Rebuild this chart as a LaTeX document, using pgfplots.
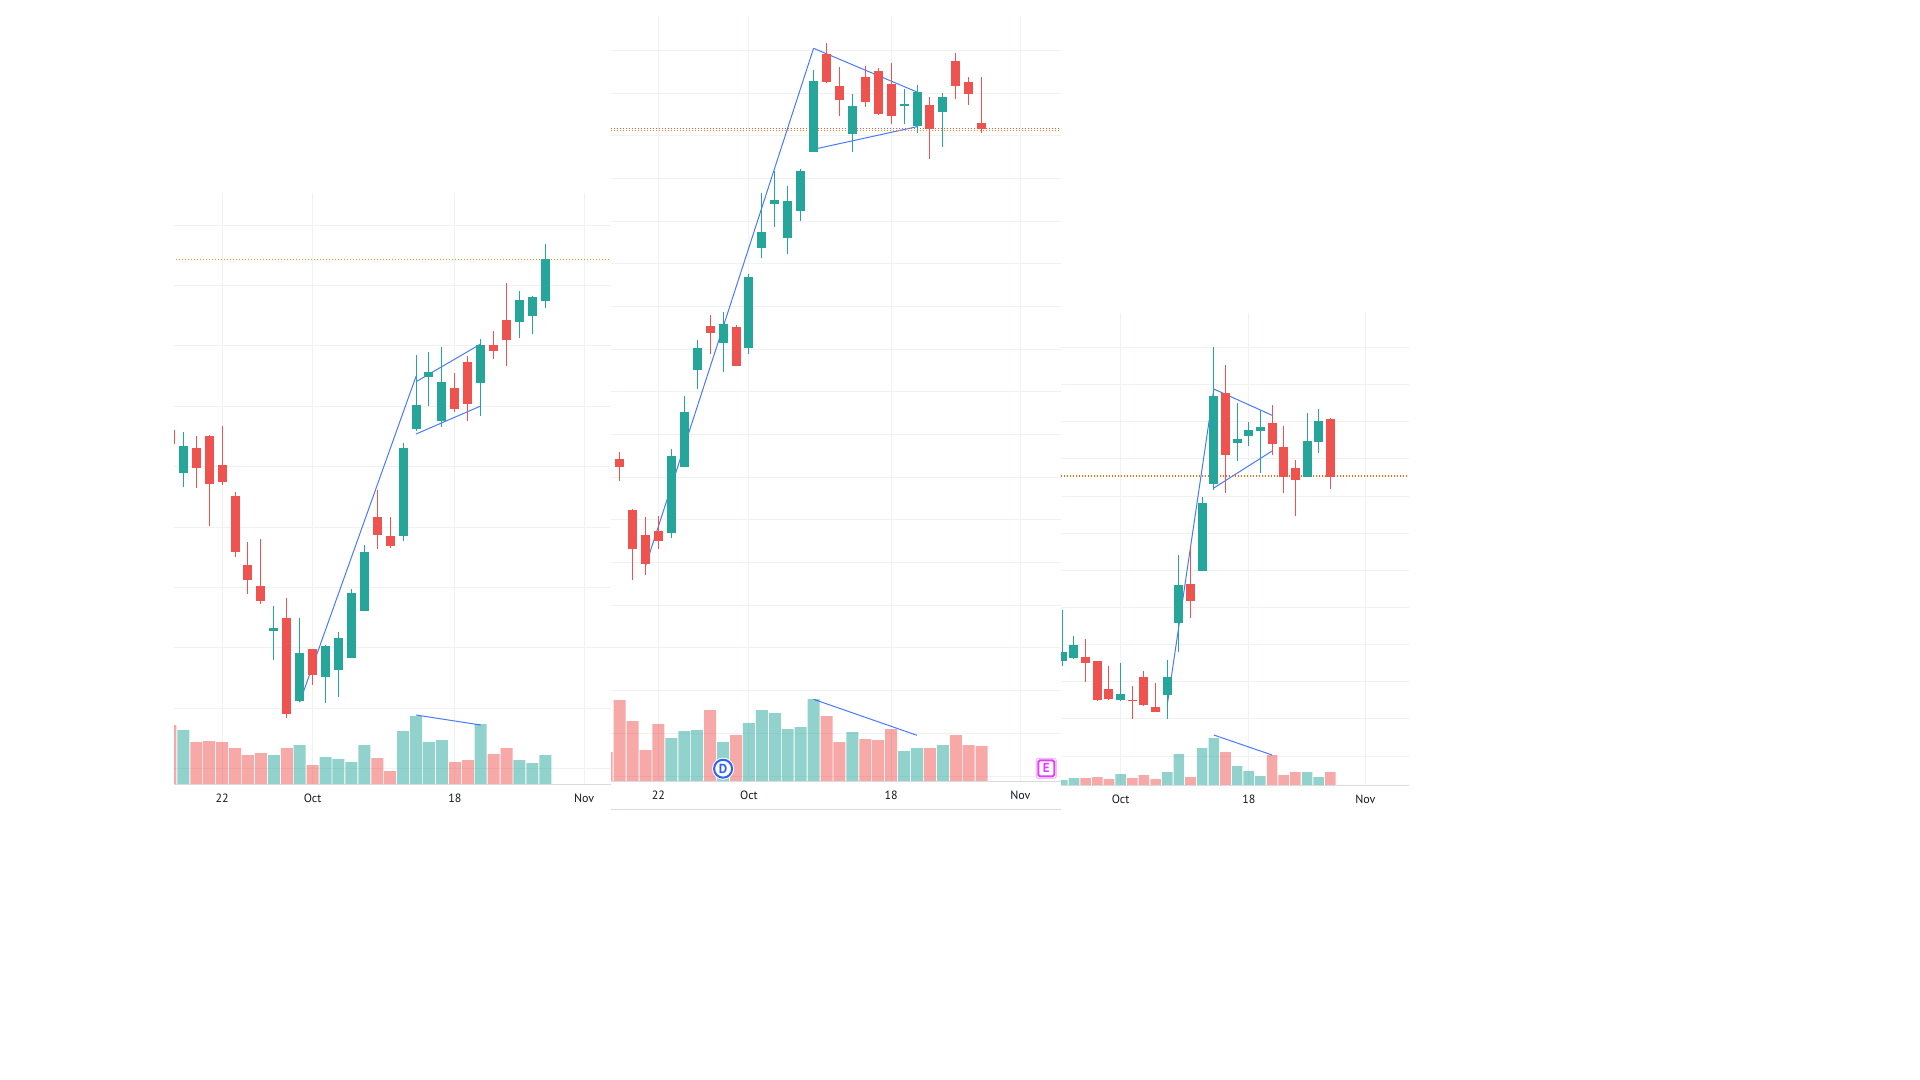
\documentclass[border=0pt]{standalone}
\usepackage{fontspec}
\setmainfont{PT Sans}
\usepackage{pgfplots}
\usepackage{pgfplotstable}
\pgfplotsset{compat=1.18}
\definecolor{upc}{HTML}{26A69A}
\definecolor{dnc}{HTML}{EF5350}
\definecolor{linec}{HTML}{2962FF}
\definecolor{gridc}{HTML}{F0F1F3}
\definecolor{basec}{HTML}{DADBDF}
\definecolor{labc}{HTML}{131722}
\definecolor{orangec}{HTML}{F59300}
\definecolor{deepc}{HTML}{FF6A00}
\definecolor{magc}{HTML}{E040FB}

% columns: x = bar number; hi, lo, top, bot = image height of wick and body ends
\pgfplotstableread{
x hi lo top bot
0 430 444 430 444
2 436 487.7 448 467.7
3 435 525.7 436 483.7
4 426 484.7 465 481.7
5 492 556.7 496 551.7
6 542 593.7 565 579.7
7 539 603.7 586 600.7
9 598 717.7 618 713.7
11 649 685 649 674.7
16 490 549 517 535
17 517 548 536 546
22 373 412 388 409
23 356 421 362 404
25 331 359 345 351
26 283 366 320 340
}\pOneDown
\pgfplotstableread{
x hi lo top bot
1 432 486.7 446 472.7
8 606 659.7 628 630.7
10 618 702 653 701
12 645 702.7 646 676.7
13 632 697 638 669.7
14 589 657.7 593 657.7
15 545 611 552 611
18 443 541 448 535.7
19 355 430.7 405 429
20 352 406 372 376.7
21 347 427 382 421
24 339 416 345 383
27 291 338 300 322
28 296 334 297 316
29 244 308 259 301
}\pOneUp
\pgfplotstableread{
x v
0 59.3
2 42.3
3 43.3
4 42.3
5 36.3
6 29.3
7 31.3
9 36.3
11 19.3
16 26.3
17 13.3
22 22.3
23 24.3
25 30.3
26 36.3
}\vOneDown
\pgfplotstableread{
x v
1 54.3
8 29.3
10 39.3
12 27.3
13 25.3
14 22.3
15 39.3
18 53.3
19 68.3
20 42.3
21 44.3
24 60.3
27 24.3
28 21.3
29 29.3
}\vOneUp

\pgfplotstableread{
x hi lo top bot
0 452 480.7 459 467
1 509 580 510 549
2 517 575 535 564
3 516 549 531 541
7 315 354 326 333
9 325 366 327 366
16 43 83 54 82
17 67 116 86 100
19 66 107 77 102
20 68 115 71 114
21 63 124 84 116
24 97 159 105 129
26 53 99 61 86
27 77 105 82 94
28 77 133 123 129
}\pTwoDown
\pgfplotstableread{
x hi lo top bot
4 449 538 456 533
5 396 467 412 467
6 340 389 348 370
8 312 372 324 343
10 274 354 277 348
11 193 258 232 248
12 171 227 200 204
13 186 254 201 238
14 169 221 171 211
15 70 152 81 152
18 94 152 106 134
22 89 124 104 106
23 85 133 92 126
25 93 147 97 112
}\pTwoUp
\pgfplotstableread{
x v
-1 29.3
0 81.3
1 60.3
2 31.3
3 57.3
7 71.3
9 46.3
16 65.3
17 39.3
19 42.3
20 41.3
21 52.3
24 33.3
26 46.3
27 36.3
28 35.3
}\vTwoDown
\pgfplotstableread{
x v
4 43.3
5 50.3
6 51.3
8 39.3
10 58.3
11 71.3
12 68.3
13 52.3
14 54.3
15 82.3
18 49.3
22 30.3
23 33.3
25 36.3
}\vTwoUp

\pgfplotstableread{
x hi lo top bot
2 639 682 657 663
3 661 701 661 700
4 666 700 689 699
6 686 719 700 701
7 671 706 677 705
8 683 712 707 712
11 546 617.7 584 601
14 365 493 393 455
18 405 455 423 444
19 426 493 447 477
20 460 516 468 480
23 418 489 419 477
}\pThreeDown
\pgfplotstableread{
x hi lo top bot
0 610 666 652 661
1 636 659 645 658
5 663 701 694 700
9 660 719 677 695
10 555 652 585 623
12 497 571 503 571
13 347 490 396 484
15 403 461 439 443
16 422 446 430 436
17 410 473 427 431
21 413 477 441 477
22 409 453 421 442
}\pThreeUp
\pgfplotstableread{
x v
2 7.3
3 8.3
4 6.3
6 7.3
7 10.3
8 6.3
11 8.3
14 33.3
18 30.3
19 10.3
20 13.3
23 13.3
}\vThreeDown
\pgfplotstableread{
x v
0 5.3
1 7.3
5 11.3
9 13.3
10 31.3
12 37.3
13 47.3
15 19.3
16 14.3
17 9.3
21 13.3
22 8.3
}\vThreeUp

\pgfplotsset{
  panel/.style={scale only axis, anchor=north west,
    axis line style={draw=none}, tick style={draw=none},
    yticklabels={}, clip=true},
  priceax/.style={panel, y dir=reverse, xticklabels={},
    xmajorgrids, ymajorgrids,
    grid style={draw=gridc, line width=0.5pt}},
  volax/.style={panel, ymin=0, ytick=\empty,
    xticklabels={#1},
    x tick label style={font=\fontsize{6}{7}\selectfont, text=labc, yshift=-1.4pt}},
  blue/.style={linec, draw opacity=0.85, line width=0.5pt, forget plot},
  level/.style={#1, line width=0.55pt, dash pattern=on 0.55pt off 0.95pt, forget plot},
  candle/.style 2 args={draw=none, no marks, forget plot,
    error bars/y dir=minus, error bars/y explicit,
    error bars/error mark=none,
    error bars/error bar style={draw=#1, line width=#2, line cap=butt}},
  volbar/.style={ybar, bar shift=0pt, draw=none, fill=#1, fill opacity=0.5, forget plot},
}
\newcommand\candles[2]{%
  \addplot[candle={#2}{0.5pt}] table[x=x, y=lo, y error minus expr=\thisrow{lo}-\thisrow{hi}] {#1};
  \addplot[candle={#2}{4.5pt}] table[x=x, y=bot, y error minus expr=\thisrow{bot}-\thisrow{top}] {#1};
}

\begin{document}
\begin{tikzpicture}[x=1pt,y=1pt]
\path (0,0) rectangle (960,-540);

% ---------- left panel
\begin{axis}[priceax, at={(87pt,-96.5pt)}, width=218.5pt, height=295.65pt,
  xmin=0.278, xmax=34.08, ymin=193, ymax=784.3,
  xtick={4,11,22,32},
  ytick={225.3,285.3,345.3,406.3,466.3,527.3,587.3,647.3,708.3,768.3}]
\addplot[blue] coordinates {(10,702.3) (19,376.3)};
\addplot[blue] coordinates {(19,381.7) (24,344)};
\addplot[blue] coordinates {(19,434) (24,406)};
\addplot[level=orangec] coordinates {(0.45,259.3) (33.9,259.3)};
\candles{\pOneDown}{dnc}
\candles{\pOneUp}{upc}
\end{axis}
\begin{axis}[volax={22,Oct,18,Nov}, at={(87pt,-96.5pt)}, width=218.5pt, height=295.65pt,
  xmin=0.278, xmax=34.08, ymax=591.3, xtick={4,11,22,32}]
\addplot[volbar=dnc, bar width=6pt] table[x=x,y=v] {\vOneDown};
\addplot[volbar=upc, bar width=6pt] table[x=x,y=v] {\vOneUp};
\addplot[blue] coordinates {(19,69.3) (24,59.3)};
\draw[basec, line width=0.6pt] (rel axis cs:0,0) -- (rel axis cs:1,0);
\end{axis}

% ---------- middle panel
\begin{axis}[priceax, at={(305.5pt,-8pt)}, width=225pt, height=382.65pt,
  xmin=-0.67, xmax=34.14, ymin=16, ymax=781.3,
  xtick={3,10,21,31},
  ytick={50.3,93.3,135.3,178.3,221.3,263.3,306.3,349.3,391.3,434.3,477.3,519.3,562.3,605,647.3,690.3,733.3,776.3}]
\addplot[blue] coordinates {(2,566) (15,48.3)};
\addplot[blue] coordinates {(15,48.3) (23,92)};
\addplot[blue] coordinates {(15,149.3) (23,126.7)};
\addplot[level=dnc] coordinates {(-0.67,128.3) (34.14,128.3)};
\addplot[level=orangec] coordinates {(-0.67,130.3) (34.14,130.3)};
\candles{\pTwoDown}{dnc}
\candles{\pTwoUp}{upc}
\end{axis}
\begin{axis}[volax={22,Oct,18,Nov}, at={(305.5pt,-8pt)}, width=225pt, height=382.65pt,
  xmin=-0.67, xmax=34.14, ymax=765.3, xtick={3,10,21,31}]
\addplot[volbar=dnc, bar width=6pt] table[x=x,y=v] {\vTwoDown};
\addplot[volbar=upc, bar width=6pt] table[x=x,y=v] {\vTwoUp};
\addplot[blue] coordinates {(15,82) (23,46)};
\draw[basec, line width=0.6pt] (rel axis cs:0,0) -- (rel axis cs:1,0);
\node[circle, fill=white, inner sep=0pt, minimum size=11pt] at (axis cs:8,12.6) {};
\node[circle, draw=linec, line width=1pt, fill=white, inner sep=0pt, minimum size=9pt,
  text=linec, font=\fontsize{6.5}{7}\selectfont\bfseries] at (axis cs:8,12.6) {D};
\node[rectangle, rounded corners=1pt, draw=magc!35, line width=0.5pt, fill=white, inner sep=0pt, minimum size=10pt] at (axis cs:33,13) {};
\node[rectangle, rounded corners=0.8pt, draw=magc, line width=1pt, fill=white, inner sep=0pt, minimum size=8pt,
  text=magc, font=\fontsize{6.5}{7}\selectfont\bfseries] at (axis cs:33,13) {E};
\end{axis}
\draw[basec, line width=0.6pt] (305.5pt,-404.6pt) -- (530.5pt,-404.6pt);

% ---------- right panel
\begin{axis}[priceax, at={(530.5pt,-156.5pt)}, width=174pt, height=236.15pt,
  xmin=-0.114, xmax=29.75, ymin=313, ymax=785.3,
  xtick={5,16,26},
  ytick={347.3,384.3,421.3,458.3,496.3,533.3,570.3,607.3,644.3,681.3,718.3,756.3}]
\addplot[blue] coordinates {(9,705) (13,389)};
\addplot[blue] coordinates {(13,389) (18,415.3)};
\addplot[blue] coordinates {(13,488) (18,451)};
\addplot[deepc, line width=1pt, dash pattern=on 0.7pt off 0.8pt, forget plot] coordinates {(-0.114,476) (29.6,476)};
\candles{\pThreeDown}{dnc}
\candles{\pThreeUp}{upc}
\end{axis}
\begin{axis}[volax={Oct,18,Nov}, at={(530.5pt,-156.5pt)}, width=174pt, height=236.15pt,
  xmin=-0.114, xmax=29.75, ymax=472.3, xtick={5,16,26}]
\addplot[volbar=dnc, bar width=5.3pt] table[x=x,y=v] {\vThreeDown};
\addplot[volbar=upc, bar width=5.3pt] table[x=x,y=v] {\vThreeUp};
\addplot[blue] coordinates {(13,50.3) (18,30.3)};
\draw[basec, line width=0.6pt] (rel axis cs:0,0) -- (rel axis cs:1,0);
\end{axis}
\end{tikzpicture}
\end{document}
